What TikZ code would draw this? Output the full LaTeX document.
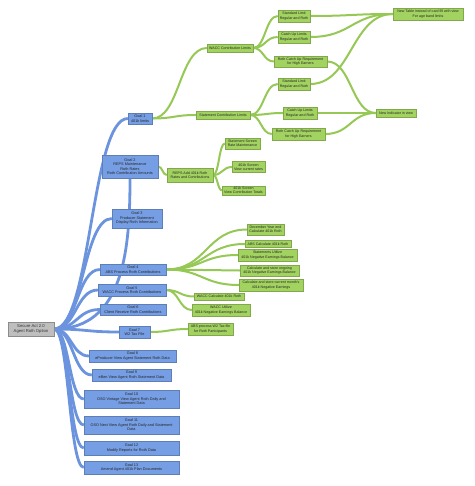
\documentclass[tikz,border=0pt]{standalone}
\usepackage{fontspec}
\setmainfont{Liberation Sans}
\usepackage{tikz}
\usetikzlibrary{calc,backgrounds}
\definecolor{goalblue}{RGB}{118,158,228}
\definecolor{linkblue}{RGB}{108,148,222}
\definecolor{leafgreen}{RGB}{162,210,96}
\definecolor{linkgreen}{RGB}{150,200,85}
\definecolor{rootgray}{RGB}{190,190,190}
\tikzset{
	goal/.style={fill=goalblue, draw=goalblue!80!black, line width=0.3pt, text=black!85, align=center,
		font=\fontsize{3.8}{4.5}\selectfont, inner xsep=2pt, inner ysep=1.2pt},
	leaf/.style={fill=leafgreen, draw=leafgreen!80!black, line width=0.3pt, text=black!85, align=center,
		font=\fontsize{3.6}{4.4}\selectfont, inner xsep=2pt, inner ysep=1.2pt},
	rootbox/.style={fill=rootgray, draw=black!45, line width=0.4pt, text=black!80, align=center,
		font=\fontsize{4.2}{5}\selectfont, inner sep=1.5pt},
	bluelink/.style={draw=linkblue, line width=2.8pt},
	greenlink/.style={draw=linkgreen, line width=2pt}
}
\def\mindlink[#1](#2)(#3){\draw[#1] let \p1=(#2), \p2=(#3) in (\p1) .. controls ({(\x1+\x2)/2},\y1) and ({(\x1+\x2)/2},\y2) .. (\p2);}

\begin{document}
\begin{tikzpicture}[x=1pt, y=-1pt]
			%%%%% START %%%%%
			\useasboundingbox (0, 0) rectangle (474, 486);
			
			\node[rootbox, minimum width=46pt, minimum height=14pt] (root) at (31, 329) {Secure Act 2.0\\Agent Roth Option};
			
			%%%%% GOALS %%%%%
			\node[goal, minimum width=24pt, minimum height=11pt] (g1) at (140, 118.5) {Goal 1\\401k limits};
			\node[goal, minimum width=56pt, minimum height=23pt] (g2) at (130, 166.5) {Goal 2\\REPS Maintenance\\Roth Rates\\Roth Contribution Amounts};
			\node[goal, minimum width=50pt, minimum height=19pt] (g3) at (137, 218.5) {Goal 3\\Producer Statement\\Display Roth Information};
			\node[goal, minimum width=66pt, minimum height=11pt] (g4) at (133, 269.5) {Goal 4\\ABS Process Roth Contributions};
			\node[goal, minimum width=68pt, minimum height=12pt] (g5) at (132, 290) {Goal 5\\WACC Process Roth Contributions};
			\node[goal, minimum width=66pt, minimum height=11pt] (g6) at (133, 309.5) {Goal 6\\Client Receive Roth Contributions};
			\node[goal, minimum width=31pt, minimum height=12pt] (g7) at (134.5, 332) {Goal 7\\W2 Tax File};
			\node[goal, minimum width=87pt, minimum height=12pt] (g8) at (132.5, 356) {Goal 8\\eProducer View Agent Statement Roth Data};
			\node[goal, minimum width=79pt, minimum height=12pt] (g9) at (131.5, 375) {Goal 9\\eBen View Agent Roth Statement Data};
			\node[goal, minimum width=95pt, minimum height=18pt] (g10) at (131.5, 399) {Goal 10\\OSO Vintage View Agent Roth Daily and\\Statement Data};
			\node[goal, minimum width=95pt, minimum height=18pt] (g11) at (131.5, 425) {Goal 11\\OSO Next View Agent Roth Daily and Statement\\Data};
			\node[goal, minimum width=95pt, minimum height=14pt] (g12) at (131.5, 448) {Goal 12\\Modify Reports for Roth Data};
			\node[goal, minimum width=95pt, minimum height=13pt] (g13) at (131.5, 467.5) {Goal 13\\Amend Agent 401k Plan Documents};
			
			%%%%% LIMITS %%%%%
			\node[leaf, minimum width=46pt, minimum height=8pt] (wacclim) at (230, 48) {WACC Contribution Limits};
			\node[leaf, minimum width=32pt, minimum height=12pt] (std1) at (294, 16) {Standard Limit\\Regular and Roth};
			\node[leaf, minimum width=32pt, minimum height=12pt] (cu1) at (294, 37) {Catch Up Limits\\Regular and Roth};
			\node[leaf, minimum width=53pt, minimum height=11pt] (rcu1) at (300.5, 61.5) {Roth Catch Up Requirement\\for High Earners};
			\node[leaf, minimum width=70pt, minimum height=12pt] (newtab) at (428, 14) {New Table instead of card fill with view\\For age band limits};
			\node[leaf, minimum width=54pt, minimum height=8pt] (stmtlim) at (223, 115) {Statement Contribution Limits};
			\node[leaf, minimum width=32pt, minimum height=12pt] (std2) at (294, 84) {Standard Limit\\Regular and Roth};
			\node[leaf, minimum width=34pt, minimum height=12pt] (cu2) at (300, 113) {Catch Up Limits\\Regular and Roth};
			\node[leaf, minimum width=53pt, minimum height=12pt] (rcu2) at (298.5, 134) {Roth Catch Up Requirement\\for High Earners};
			\node[leaf, minimum width=40pt, minimum height=8pt] (newind) at (396, 113) {New Indicator in view};
			
			%%%%% RATES %%%%%
			\node[leaf, minimum width=35pt, minimum height=11pt] (ratemaint) at (242.5, 143.5) {Statement Screen\\Rate Maintenance};
			\node[leaf, minimum width=46pt, minimum height=14pt] (repsadd) at (190, 175) {REPS Add 401k Roth\\Rates and Contributions};
			\node[leaf, minimum width=25pt, minimum height=11pt] (currates) at (248.5, 167) {401k Screen\\View current rates};
			\node[leaf, minimum width=33pt, minimum height=9pt] (contrtot) at (243.5, 190.5) {401k Screen\\View Contribution Totals};
			
			%%%%% CALCULATIONS %%%%%
			\node[leaf, minimum width=37pt, minimum height=11pt] (yearend) at (265.5, 229.5) {December Year end\\Calculate 401k Roth};
			\node[leaf, minimum width=46pt, minimum height=7pt] (abscalc) at (268, 244) {ABS Calculate 401k Roth};
			\node[leaf, minimum width=59pt, minimum height=12pt] (stmtneg) at (267.5, 255) {Statements Utilize\\401k Negative Earnings Balance};
			\node[leaf, minimum width=59pt, minimum height=11pt] (ongoing) at (269.5, 270.5) {Calculate and store ongoing\\401k Negative Earnings Balance};
			\node[leaf, minimum width=64pt, minimum height=12pt] (curmonth) at (271, 285) {Calculate and store current month's\\401k Negative Earnings};
			\node[leaf, minimum width=50pt, minimum height=7pt] (wacccalc) at (219, 296.5) {WACC Calculate 401k Roth};
			\node[leaf, minimum width=58pt, minimum height=12pt] (waccneg) at (221, 310) {WACC Utilize\\401k Negative Earnings Balance};
			\node[leaf, minimum width=45pt, minimum height=12pt] (w2file) at (210.5, 329) {ABS process W2 Tax file\\for Roth Participants};
			
			\begin{scope}[on background layer]
				\fill[white] (0, 0) rectangle (474, 486);
				%%%%% BLUE BRANCHES %%%%%
				\foreach \goalname in {g1,g3,g4,g5,g6,g7,g8,g9,g10,g11,g12,g13}
					{\mindlink[bluelink](root.east)(\goalname.west)}
				\draw[bluelink] (root.east) .. controls +(70, 0) and +(0, 70) .. (g2.south);
				
				%%%%% GREEN BRANCHES %%%%%
				\mindlink[greenlink](g1.east)(wacclim.west)
				\mindlink[greenlink](g1.east)(stmtlim.west)
				\foreach \child in {std1,cu1,rcu1}
					{\mindlink[greenlink](wacclim.east)(\child.west)}
				\foreach \child in {std2,cu2,rcu2}
					{\mindlink[greenlink](stmtlim.east)(\child.west)}
				\foreach \child in {std1,cu1,std2}
					{\mindlink[greenlink](\child.east)(newtab.west)}
				\foreach \child in {rcu1,cu2,rcu2}
					{\mindlink[greenlink](\child.east)(newind.west)}
				\mindlink[greenlink](g2.east)(repsadd.west)
				\foreach \child in {ratemaint,currates,contrtot}
					{\mindlink[greenlink](repsadd.east)(\child.west)}
				\foreach \child in {yearend,abscalc,stmtneg,ongoing,curmonth}
					{\mindlink[greenlink](g4.east)(\child.west)}
				\foreach \child in {wacccalc,waccneg}
					{\mindlink[greenlink](g5.east)(\child.west)}
				\mindlink[greenlink](g7.east)(w2file.west)
			\end{scope}
			%%%%% END %%%%%
\end{tikzpicture}
\end{document}
